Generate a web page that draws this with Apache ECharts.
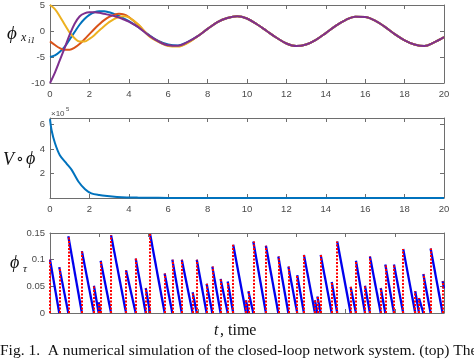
<!DOCTYPE html>
<html>
<head>
<meta charset="utf-8">
<script src="https://cdn.jsdelivr.net/npm/echarts@6/dist/echarts.min.js"></script>
<style>
html,body{margin:0;padding:0;background:#fff;}
#c{width:474px;height:359px;}
</style>
</head>
<body>
<div id="c"></div>
<script>
// ---- top panel: phi_{x_i1}(t) ----
const tHead = [0,0.25,0.5,0.75,1,1.25,1.5,1.75,2,2.25,2.5,2.75,3,3.25,3.5,3.75,4,4.5,5,5.5,6,6.5,7];
const blueHead   = [-5,-4.7,-4.0,-3.0,-1.6,-0.2,1.2,2.3,3.1,3.6,3.8,3.8,3.6,3.3,2.9,2.4,1.9,0.7,-0.7,-1.9,-2.6,-2.8,-2.1];
const orangeHead = [-2.0,-2.7,-3.3,-3.6,-3.6,-3.2,-2.5,-1.6,-0.6,0.4,1.3,2.1,2.7,3.1,3.3,3.2,2.7,1.1,-0.8,-2.0,-2.8,-2.9,-2.2];
const yellowHead = [5.0,4.2,2.8,1.2,-0.3,-1.4,-2.0,-2.0,-1.5,-0.8,0.1,0.9,1.7,2.3,2.7,2.85,2.6,1.2,-0.9,-2.1,-2.9,-3.0,-2.3];
const purpleHead = [-10,-8.0,-5.6,-3.2,-0.7,1.4,2.8,3.4,3.6,3.6,3.5,3.3,3.1,2.9,2.6,2.2,1.8,0.7,-0.8,-2.0,-2.75,-2.85,-2.1];
const tTail   = [7.5,8,8.5,9,9.5,10,10.5,11,11.5,12,12.5,13,13.5,14,14.5,15,15.5,16,16.5,17,17.5,18,18.5,19,19.5,20];
const phiTail = [-1.0,0.4,1.7,2.5,2.85,2.4,1.3,0,-1.3,-2.4,-2.9,-2.6,-1.7,-0.4,1.0,2.1,2.75,2.7,2.0,0.8,-0.6,-1.8,-2.6,-2.9,-2.2,-1.2];
const topYTicks = [-10,-5,0,5];

// ---- middle panel: V o phi (units of 1e5) ----
const tV = [0,0.08,0.25,0.5,0.85,1.1,1.44,1.78,2.1,2.5,2.9,3.4,3.9,4.5,5,6,8,12,20];
const vPhi = [6.45,5.55,4.5,3.5,2.8,2.3,1.35,0.72,0.38,0.24,0.16,0.09,0.05,0.03,0.02,0.01,0,0,0];

// ---- bottom panel: phi_tau events ----
const eventT = [0,0.47,0.93,1.62,2.23,2.47,2.57,3.10,3.86,4.35,4.86,5.08,5.82,6.21,6.69,7.24,7.45,7.95,8.24,8.66,9.02,9.30,9.95,10.07,10.32,10.96,11.59,12.10,12.55,12.89,13.45,13.57,13.74,14.30,14.58,15.26,15.53,15.99,16.24,16.79,17.02,17.46,17.93,18.54,18.73,18.95,19.32,19.93];
const eventH = [0.100,0.086,0.144,0.116,0.051,0.020,0.098,0.146,0.080,0.102,0.047,0.148,0.074,0.100,0.100,0.039,0.100,0.055,0.087,0.064,0.059,0.128,0.024,0.041,0.134,0.126,0.106,0.087,0.071,0.109,0.024,0.031,0.109,0.058,0.134,0.049,0.098,0.051,0.106,0.047,0.091,0.091,0.120,0.041,0.028,0.073,0.121,0.060];
const tEnd = 20;
const hEnd = 0.046;

const chart = echarts.init(document.getElementById('c'), null, {renderer:'canvas'});

const AX = '#6e6e6e';
const LBL = '#4a4a4a';
const FS = 9.5;
const FF = '"Liberation Sans", Arial, Helvetica, sans-serif';
const SERIF = '"Liberation Serif", "DejaVu Serif", "Times New Roman", serif';

const grids = [
  {left:50, width:394, top:4, height:79},
  {left:50, width:394, top:118, height:80},
  {left:50, width:394, top:233, height:80}
];

function xAx(gi, pos, showLabel, interval){
  return {type:'value', gridIndex:gi, position:pos, min:0, max:20, interval:interval,
    axisLine:{show:true, onZero:false, lineStyle:{color:AX, width:1}},
    axisTick:{show:true, inside:true, length:4, lineStyle:{color:AX}},
    splitLine:{show:false},
    axisLabel:{show:showLabel, fontSize:FS, color:LBL, fontFamily:FF, margin:6}};
}
function yAx(gi, pos, showLabel, min, max, interval, fmt){
  return {type:'value', gridIndex:gi, position:pos, min:min, max:max, interval:interval,
    axisLine:{show:true, onZero:false, lineStyle:{color:AX, width:1}},
    axisTick:{show:true, inside:true, length:4, lineStyle:{color:AX}},
    splitLine:{show:false},
    axisLabel:{show:showLabel, fontSize:FS, color:LBL, fontFamily:FF, margin:5, showMaxLabel:fmt?false:null, formatter:fmt||null}};
}

const xAxes = [
  xAx(0,'bottom',true,2), xAx(0,'top',false,2),
  xAx(1,'bottom',true,2), xAx(1,'top',false,2),
  xAx(2,'bottom',false,2.5), xAx(2,'top',false,2.5)
];
const yAxes = [
  yAx(0,'left',true,topYTicks[0],topYTicks[3],5), yAx(0,'right',false,-10,5,5),
  yAx(1,'left',true,0,6.55,2,function(v){return v===0?'':String(v);}), yAx(1,'right',false,0,6.55,2),
  yAx(2,'left',true,0,0.15,0.05), yAx(2,'right',false,0,0.15,0.05)
];
yAxes[3].axisLabel.show=false;

function zip(t, v){ return t.map((x,i)=>[x, v[i]]); }
const tailPts = zip(tTail, phiTail);
function topSeries(head, color){
  return {type:'line', xAxisIndex:0, yAxisIndex:0, data: zip(tHead, head).concat(tailPts),
    smooth:0.35, showSymbol:false, symbol:'none', lineStyle:{color:color, width:2}, z:3};
}

const blueSegs = [];
const redSegs = [];
for (let k=0;k<eventT.length;k++){
  const tn = k+1<eventT.length ? eventT[k+1] : tEnd;
  const en = k+1<eventT.length ? 0 : hEnd;
  blueSegs.push({coords:[[eventT[k], eventH[k]],[tn, en]]});
  redSegs.push({coords:[[eventT[k], 0],[eventT[k], eventH[k]]]});
}

const option = {
  animation:false,
  backgroundColor:'#fff',
  grid: grids,
  xAxis: xAxes,
  yAxis: yAxes,
  series: [
    topSeries(blueHead,'#0072BD'),
    topSeries(orangeHead,'#D95319'),
    topSeries(yellowHead,'#EDB120'),
    topSeries(purpleHead,'#7E2F8E'),
    {type:'line', xAxisIndex:2, yAxisIndex:2, data: zip(tV, vPhi), smooth:0.3, symbol:'none',
      lineStyle:{color:'#0072BD', width:2}},
    {type:'lines', coordinateSystem:'cartesian2d', xAxisIndex:4, yAxisIndex:4, polyline:false,
      data: blueSegs, lineStyle:{color:'#0000EE', width:2.3, opacity:1, curveness:0}, silent:true, z:3},
    {type:'lines', coordinateSystem:'cartesian2d', xAxisIndex:4, yAxisIndex:4, polyline:false,
      data: redSegs, lineStyle:{color:'#FF0000', width:2, opacity:1, type:[2,1.5], curveness:0}, silent:true, z:4}
  ],
  graphic: [
    // top y-title
    {type:'text', left:7, top:24, style:{text:'\u03D5', font:'italic 19px '+SERIF, fill:'#111'}},
    {type:'text', left:21, top:32, style:{text:'x', font:'italic 12px '+SERIF, fill:'#111'}},
    {type:'text', left:28, top:36, style:{text:'i1', font:'italic 9px '+SERIF, fill:'#111'}},
    // middle y-title
    {type:'text', left:3, top:151, style:{text:'V', font:'italic 18px '+SERIF, fill:'#111'}},
    {type:'text', left:16, top:152, style:{text:'\u2218', font:'16px '+SERIF, fill:'#111'}},
    {type:'text', left:26, top:150, style:{text:'\u03D5', font:'italic 18px '+SERIF, fill:'#111'}},
    // x10^5
    {type:'text', left:51, top:110, style:{text:'\u00D710', font:'8px '+FF, fill:LBL}},
    {type:'text', left:66, top:106, style:{text:'5', font:'6px '+FF, fill:LBL}},
    // bottom y-title
    {type:'text', left:10, top:254, style:{text:'\u03D5', font:'italic 18px '+SERIF, fill:'#111'}},
    {type:'text', left:23, top:264, style:{text:'\u03C4', font:'italic 11px '+SERIF, fill:'#111'}},
    // x title
    {type:'text', left:214, top:323, style:{text:'t', font:'italic 16px '+SERIF, fill:'#111'}},
    {type:'text', left:220, top:323, style:{text:', time', font:'16px '+SERIF, fill:'#111'}},
    // caption (cut off at bottom)
    {type:'text', left:0, top:343, style:{text:'Fig. 1.  A numerical simulation of the closed-loop network system. (top) The', font:'15.5px '+SERIF, fill:'#111'}}
  ]
};
chart.setOption(option);
</script>
</body>
</html>
